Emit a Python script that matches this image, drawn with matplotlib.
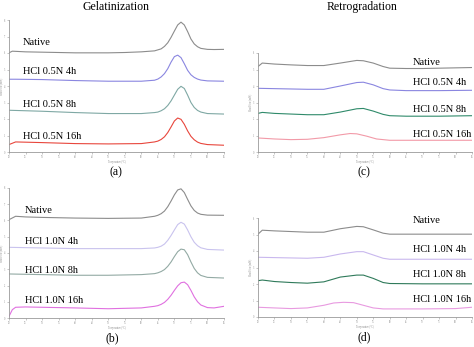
import matplotlib
matplotlib.use("Agg")
import matplotlib.pyplot as plt

plt.rcParams['font.family'] = ['Liberation Serif', 'DejaVu Serif']

# ---------------- data (temperature in °C, heat flow in arbitrary offset units) -------------
# Panel (a) Gelatinization, HCl 0.5N
a_native_x = [20, 21, 25, 30, 40, 50, 55, 60, 64, 66, 67, 68, 69, 70, 71, 72, 73, 74, 75, 76, 77, 78, 80, 82, 85]
a_native_y = [6.01, 6.11, 6.07, 6.05, 6.01, 6.01, 6.03, 6.07, 6.13, 6.25, 6.40, 6.62, 6.95, 7.33, 7.70, 7.87, 7.70, 7.30, 6.85, 6.55, 6.38, 6.28, 6.22, 6.21, 6.22]
a_4h_x = [20, 22, 30, 40, 50, 60, 64, 65, 66, 67, 68, 69, 70, 71, 72, 73, 74, 75, 76, 77, 78, 80, 85]
a_4h_y = [4.41, 4.41, 4.39, 4.33, 4.29, 4.29, 4.35, 4.42, 4.55, 4.75, 5.05, 5.45, 5.78, 5.87, 5.72, 5.35, 4.95, 4.68, 4.52, 4.42, 4.36, 4.31, 4.29]
a_8h_x = [20, 30, 40, 50, 60, 64, 65, 66, 67, 68, 69, 70, 71, 72, 73, 74, 75, 76, 77, 78, 80, 85]
a_8h_y = [2.53, 2.47, 2.39, 2.33, 2.33, 2.39, 2.42, 2.50, 2.62, 2.82, 3.10, 3.45, 3.80, 3.98, 3.85, 3.45, 3.00, 2.70, 2.52, 2.42, 2.33, 2.30]
a_16h_x = [20, 22, 30, 40, 50, 60, 64, 65, 66, 67, 68, 69, 70, 71, 72, 73, 74, 75, 76, 77, 78, 80, 85]
a_16h_y = [0.45, 0.61, 0.57, 0.51, 0.49, 0.51, 0.61, 0.66, 0.76, 0.92, 1.18, 1.52, 1.88, 2.06, 1.98, 1.68, 1.28, 0.95, 0.74, 0.60, 0.52, 0.45, 0.41]

# Panel (b) Gelatinization, HCl 1.0N
b_native_x = [20, 22, 25, 30, 40, 50, 60, 64, 65, 66, 67, 68, 69, 70, 71, 72, 73, 74, 75, 76, 77, 78, 80, 85]
b_native_y = [6.05, 6.26, 6.22, 6.19, 6.15, 6.13, 6.15, 6.26, 6.32, 6.42, 6.58, 6.85, 7.20, 7.58, 7.88, 7.95, 7.72, 7.30, 6.90, 6.62, 6.46, 6.38, 6.33, 6.32]
b_4h_x = [20, 30, 40, 50, 60, 64, 65, 66, 67, 68, 69, 70, 71, 72, 73, 74, 75, 76, 77, 78, 80, 85]
b_4h_y = [4.35, 4.31, 4.27, 4.27, 4.27, 4.31, 4.35, 4.42, 4.55, 4.78, 5.08, 5.42, 5.75, 5.89, 5.78, 5.42, 5.00, 4.66, 4.45, 4.32, 4.22, 4.18]
b_8h_x = [20, 30, 40, 50, 60, 64, 65, 66, 67, 68, 69, 70, 71, 72, 73, 74, 75, 76, 77, 78, 80, 85]
b_8h_y = [2.71, 2.67, 2.63, 2.63, 2.67, 2.73, 2.78, 2.86, 2.98, 3.18, 3.45, 3.78, 4.08, 4.24, 4.20, 3.90, 3.45, 3.05, 2.78, 2.62, 2.50, 2.46]
b_16h_x = [20, 21, 22, 25, 30, 40, 50, 60, 64, 65, 66, 67, 68, 69, 70, 71, 72, 73, 74, 75, 76, 77, 78, 80, 82, 85]
b_16h_y = [0.10, 0.51, 0.66, 0.68, 0.66, 0.62, 0.57, 0.62, 0.72, 0.76, 0.84, 0.96, 1.15, 1.40, 1.70, 1.98, 2.17, 2.21, 2.05, 1.70, 1.30, 1.00, 0.80, 0.64, 0.62, 0.72]

# Panel (c) Retrogradation, HCl 0.5N
c_native_x = [20, 21.3, 25, 30, 35, 40, 45, 50, 52, 55, 58, 60, 65, 70, 75, 80, 85]
c_native_y = [5.18, 5.39, 5.33, 5.28, 5.24, 5.24, 5.39, 5.55, 5.53, 5.39, 5.18, 5.08, 5.06, 5.06, 5.08, 5.10, 5.12]
c_4h_x = [20, 25, 30, 35, 40, 45, 50, 52, 55, 58, 60, 65, 75, 85]
c_4h_y = [3.86, 3.84, 3.82, 3.80, 3.80, 4.00, 4.21, 4.23, 4.07, 3.84, 3.76, 3.72, 3.72, 3.74]
c_8h_x = [20, 21.3, 25, 30, 35, 40, 45, 50, 52, 55, 58, 60, 65, 75, 85]
c_8h_y = [2.34, 2.40, 2.34, 2.30, 2.26, 2.26, 2.42, 2.62, 2.64, 2.48, 2.28, 2.20, 2.17, 2.17, 2.20]
c_16h_x = [20, 25, 30, 35, 40, 45, 48, 50, 53, 56, 60, 70, 85]
c_16h_y = [0.85, 0.79, 0.75, 0.77, 0.87, 1.04, 1.12, 1.10, 0.96, 0.79, 0.71, 0.71, 0.71]

# Panel (d) Retrogradation, HCl 1.0N
d_native_x = [20, 21.3, 25, 30, 35, 40, 45, 50, 52, 55, 58, 60, 70, 85]
d_native_y = [5.02, 5.26, 5.22, 5.18, 5.14, 5.14, 5.35, 5.49, 5.47, 5.28, 5.08, 5.02, 5.02, 5.02]
d_4h_x = [20, 25, 30, 35, 40, 45, 50, 52, 55, 58, 60, 70, 85]
d_4h_y = [3.62, 3.60, 3.58, 3.56, 3.62, 3.82, 3.96, 3.96, 3.76, 3.56, 3.50, 3.50, 3.50]
d_8h_x = [20, 21.3, 25, 30, 35, 40, 45, 50, 52, 55, 58, 60, 70, 85]
d_8h_y = [2.20, 2.24, 2.15, 2.09, 2.05, 2.13, 2.42, 2.54, 2.54, 2.34, 2.09, 2.03, 2.01, 2.01]
d_16h_x = [20, 25, 30, 35, 40, 43, 46, 49, 52, 55, 58, 70, 80, 85]
d_16h_y = [0.59, 0.55, 0.51, 0.55, 0.71, 0.85, 0.89, 0.87, 0.71, 0.55, 0.49, 0.49, 0.51, 0.59]

labels_05 = ["Native", "HCl 0.5N 4h", "HCl 0.5N 8h", "HCl 0.5N 16h"]
labels_10 = ["Native", "HCl 1.0N 4h", "HCl 1.0N 8h", "HCl 1.0N 16h"]
x_ticks = list(range(20, 90, 5))

# ---------------- figure ----------------
W, H = 474, 347
fig = plt.figure(figsize=(W / 100, H / 100), dpi=100)


def add_ax(left, right, top, bottom):
    return fig.add_axes([left / W, 1 - bottom / H, (right - left) / W, (bottom - top) / H])


def style(ax, ymax):
    ax.set_xlim(20, 85)
    ax.set_ylim(0, ymax)
    ax.set_xticks(x_ticks)
    ax.set_yticks(range(0, ymax + 1))
    for s in ['top', 'right']:
        ax.spines[s].set_visible(False)
    for s in ['left', 'bottom']:
        ax.spines[s].set_color('#9a9a9a')
        ax.spines[s].set_linewidth(0.6)
    ax.tick_params(length=1.5, width=0.4, color='#9a9a9a', labelsize=1.8,
                   labelcolor='#888888', pad=1)
    ax.set_xlabel("Temperature (°C)", fontsize=1.8, color='#888888', labelpad=0.5)
    ax.set_ylabel("Heat Flow (mW)", fontsize=1.8, color='#888888', labelpad=0.5)
    ax.patch.set_alpha(0)


panels = [
    # (bounds px), ymax, curves, colors, labels, label positions
    dict(b=(9, 224, 20, 152), ymax=8,
         curves=[(a_native_x, a_native_y), (a_4h_x, a_4h_y), (a_8h_x, a_8h_y), (a_16h_x, a_16h_y)],
         colors=['#8c8c8c', '#8a86e0', '#7fa8a4', '#e8463c'],
         labels=labels_05, lx=24.2, ly=[6.64, 4.88, 2.89, 0.91]),
    dict(b=(9, 224, 188, 318), ymax=8,
         curves=[(b_native_x, b_native_y), (b_4h_x, b_4h_y), (b_8h_x, b_8h_y), (b_16h_x, b_16h_y)],
         colors=['#8c8c8c', '#c9c3ee', '#93aaa4', '#e070e0'],
         labels=labels_10, lx=24.7, ly=[6.63, 4.72, 2.91, 1.09]),
    dict(b=(258, 472, 53, 152), ymax=6,
         curves=[(c_native_x, c_native_y), (c_4h_x, c_4h_y), (c_8h_x, c_8h_y), (c_16h_x, c_16h_y)],
         colors=['#8c8c8c', '#8a86e0', '#2f8a6a', '#f29aa8'],
         labels=labels_05, lx=67.0, ly=[5.43, 4.21, 2.60, 1.04]),
    dict(b=(258, 472, 218, 317), ymax=6,
         curves=[(d_native_x, d_native_y), (d_4h_x, d_4h_y), (d_8h_x, d_8h_y), (d_16h_x, d_16h_y)],
         colors=['#8c8c8c', '#c9b8ee', '#2f7a5a', '#e89ae0'],
         labels=labels_10, lx=67.1, ly=[5.83, 4.07, 2.58, 1.08]),
]

for p in panels:
    ax = add_ax(*p['b'])
    style(ax, p['ymax'])
    for (xs, ys), c in zip(p['curves'], p['colors']):
        ax.plot(xs, ys, color=c, lw=0.8)
    for lab, y in zip(p['labels'], p['ly']):
        ax.text(p['lx'], y, lab, fontsize=7.5, va='center', ha='left', color='black')

# titles and panel letters
def ftext(x, y, s, size):
    fig.text(x / W, 1 - y / H, s, fontsize=size, ha='center', va='center')

ftext(116, 7, "Gelatinization", 8.5)
ftext(362, 7, "Retrogradation", 8.5)
ftext(116, 172, "(a)", 8.5)
ftext(112, 338, "(b)", 8.5)
ftext(364, 172, "(c)", 8.5)
ftext(364, 337, "(d)", 8.5)

fig.savefig("out.png", dpi=100)
